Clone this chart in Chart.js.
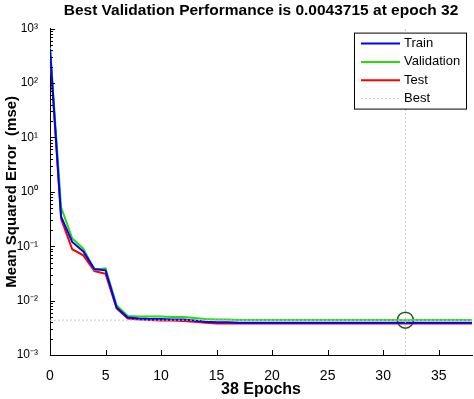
<!DOCTYPE html>
<html lang="en">
  <head>
    <meta charset="UTF-8" />
    <title>Best Validation Performance</title>
    <script src="https://cdn.jsdelivr.net/npm/chart.js"></script>
    <style>
      body{
        margin: 0;
        background: #fff;
      }
      .wrap{
        width: 474px;
        height: 399px;
      }
    </style>
  </head>
  <body>
    <div class="wrap">
      <canvas id="perf" width="474" height="399"></canvas>
    </div>
    <script>
      // values, one per epoch (0..38)
      const epochs = [0,1,2,3,4,5,6,7,8,9,10,11,12,13,14,15,16,17,18,19,20,21,22,23,24,25,26,27,28,29,30,31,32,33,34,35,36,37,38];
      const train = [420,0.35,0.12,0.08,0.038,0.036,0.0075,0.0049,0.0047,0.0046,0.0046,0.0045,0.0045,0.0043,0.0041,0.0040,0.0040,0.0039,0.0039,0.0039,0.0039,0.0039,0.0039,0.0039,0.0039,0.0039,0.0039,0.0039,0.0039,0.0039,0.0039,0.0039,0.0039,0.0039,0.0039,0.0039,0.0039,0.0039,0.0039];
      const validation = [450,0.52,0.14,0.09,0.037,0.039,0.0082,0.0052,0.0051,0.0051,0.0051,0.0050,0.0050,0.0048,0.0046,0.0045,0.0045,0.0044,0.0044,0.0044,0.0044,0.0044,0.0044,0.0044,0.0044,0.0044,0.0044,0.0044,0.0044,0.0044,0.0044,0.0044,0.0043715,0.0044,0.0044,0.0044,0.0044,0.0044,0.0044];
      const test = [400,0.32,0.088,0.068,0.035,0.031,0.0072,0.0047,0.0045,0.0044,0.0043,0.0043,0.0042,0.0041,0.0039,0.0038,0.0038,0.0038,0.0038,0.0038,0.0038,0.0038,0.0038,0.0038,0.0038,0.0038,0.0038,0.0038,0.0038,0.0038,0.0038,0.0038,0.0038,0.0038,0.0038,0.0038,0.0038,0.0038,0.0038];
      const bestEpoch = 32;
      const bestValue = 0.0043715;
      const xTicks = [0,5,10,15,20,25,30,35];
      const yDecades = [-3,-2,-1,0,1,2,3];
      const legendOrder = ['Train', 'Validation', 'Test', 'Best'];

      const FONT = "'Liberation Sans', Arial, Helvetica, sans-serif";
      const sup = {'-':'⁻','0':'⁰','1':'¹','2':'²','3':'³','4':'⁴','5':'⁵','6':'⁶','7':'⁷','8':'⁸','9':'⁹'};
      function powLabel(e){
        return '10' + String(e).split('').map(c => sup[c]).join('');
      }
      const pts = arr => arr.map((v, i) => ({x: epochs[i], y: v}));

      // MATLAB style ticks pointing into the plot + legend box in the top right
      const matlabBits = {
        id: 'matlabBits',
        afterDraw(chart){
          const ctx = chart.ctx;
          const area = chart.chartArea;
          const xs = chart.scales.x, ys = chart.scales.y;
          ctx.save();
          ctx.strokeStyle = '#000';
          ctx.lineWidth = 1;
          ctx.beginPath();
          yDecades.forEach(e => {
            const y = Math.round(ys.getPixelForValue(Math.pow(10, e))) + 0.5;
            ctx.moveTo(area.left, y); ctx.lineTo(area.left + 5, y);
            if (e < 3) {
              for (let m = 2; m <= 9; m++) {
                const ym = Math.round(ys.getPixelForValue(m * Math.pow(10, e))) + 0.5;
                ctx.moveTo(area.left, ym); ctx.lineTo(area.left + 3, ym);
              }
            }
          });
          xTicks.forEach(t => {
            const x = Math.round(xs.getPixelForValue(t)) + 0.5;
            ctx.moveTo(x, area.bottom); ctx.lineTo(x, area.bottom - 5);
          });
          ctx.stroke();

          // legend
          const bx = area.right - 118, by = area.top + 4, bw = 112, bh = 76;
          ctx.fillStyle = '#fff';
          ctx.fillRect(bx, by, bw, bh);
          ctx.strokeRect(bx + 0.5, by + 0.5, bw, bh);
          ctx.font = '13px ' + FONT;
          ctx.textBaseline = 'middle';
          legendOrder.forEach((name, i) => {
            const d = chart.data.datasets.find(ds => ds.label === name);
            const y = by + 11 + i * 18.3;
            ctx.save();
            ctx.strokeStyle = d.borderColor;
            ctx.lineWidth = d.legendWidth || 2;
            ctx.setLineDash(d.borderDash || []);
            ctx.beginPath();
            ctx.moveTo(bx + 7, y); ctx.lineTo(bx + 46, y);
            ctx.stroke();
            ctx.restore();
            ctx.fillStyle = '#000';
            ctx.fillText(d.label, bx + 50, y);
          });
          ctx.restore();
        }
      };

      new Chart(document.getElementById('perf'), {
        type: 'line',
        data: {
          datasets: [
            {label: 'Best', data: [{x: bestEpoch, y: 0.001}, {x: bestEpoch, y: 1000}], borderColor: '#c8c8c8', borderWidth: 1, borderDash: [2, 2], pointRadius: 0, legendWidth: 1},
            {label: 'bestH', data: [{x: 0, y: bestValue}, {x: 38, y: bestValue}], borderColor: '#c8c8c8', borderWidth: 1, borderDash: [2, 2], pointRadius: 0},
            {label: 'Train', data: pts(train), borderColor: '#0000ff', borderWidth: 2, pointRadius: 0},
            {label: 'Validation', data: pts(validation), borderColor: '#22e000', borderWidth: 2, pointRadius: 0},
            {label: 'Test', data: pts(test), borderColor: '#ff0000', borderWidth: 2, pointRadius: 0},
            {label: 'bestPoint', data: [{x: bestEpoch, y: bestValue}], showLine: false, pointRadius: 8, pointBorderWidth: 1.5, pointBorderColor: '#1b5e1b', pointBackgroundColor: 'rgba(0,0,0,0)', borderColor: '#1b5e1b'}
          ]
        },
        options: {
          responsive: false,
          animation: false,
          layout: {padding: {right: 2}, autoPadding: false},
          plugins: {
            legend: {display: false},
            tooltip: {enabled: false},
            title: {
              display: true,
              fullSize: false,
              text: 'Best Validation Performance is 0.0043715 at epoch 32',
              color: '#000',
              font: {family: FONT, size: 15.5, weight: 'bold'},
              padding: {top: 1, bottom: 9}
            }
          },
          scales: {
            x: {
              type: 'linear',
              min: 0,
              max: 38,
              afterFit: s => { s.height = 44; s.paddingLeft = 0; s.paddingRight = 0; },
              grid: {display: false},
              border: {color: '#000', width: 1},
              ticks: {stepSize: 5, includeBounds: false, color: '#000', padding: 5, font: {family: FONT, size: 14}},
              title: {display: true, text: '38 Epochs', color: '#000', font: {family: FONT, size: 16, weight: 'bold'}, padding: 0}
            },
            y: {
              type: 'logarithmic',
              min: 0.001,
              max: 1000,
              afterFit: s => { s.width = 50; s.paddingTop = 0; s.paddingBottom = 0; },
              grid: {display: false},
              border: {color: '#000', width: 1},
              ticks: {
                autoSkip: false,
                color: '#000',
                padding: 4,
                font: {family: FONT, size: 12},
                callback: v => {
                  const e = Math.round(Math.log10(v));
                  return Math.abs(v - Math.pow(10, e)) < 1e-9 * Math.pow(10, e) ? powLabel(e) : '';
                }
              },
              title: {display: true, text: 'Mean Squared Error  (mse)', color: '#000', font: {family: FONT, size: 15, weight: 'bold'}, padding: {top: 3, bottom: 0}}
            }
          }
        },
        plugins: [matlabBits]
      });
    </script>
  </body>
</html>
